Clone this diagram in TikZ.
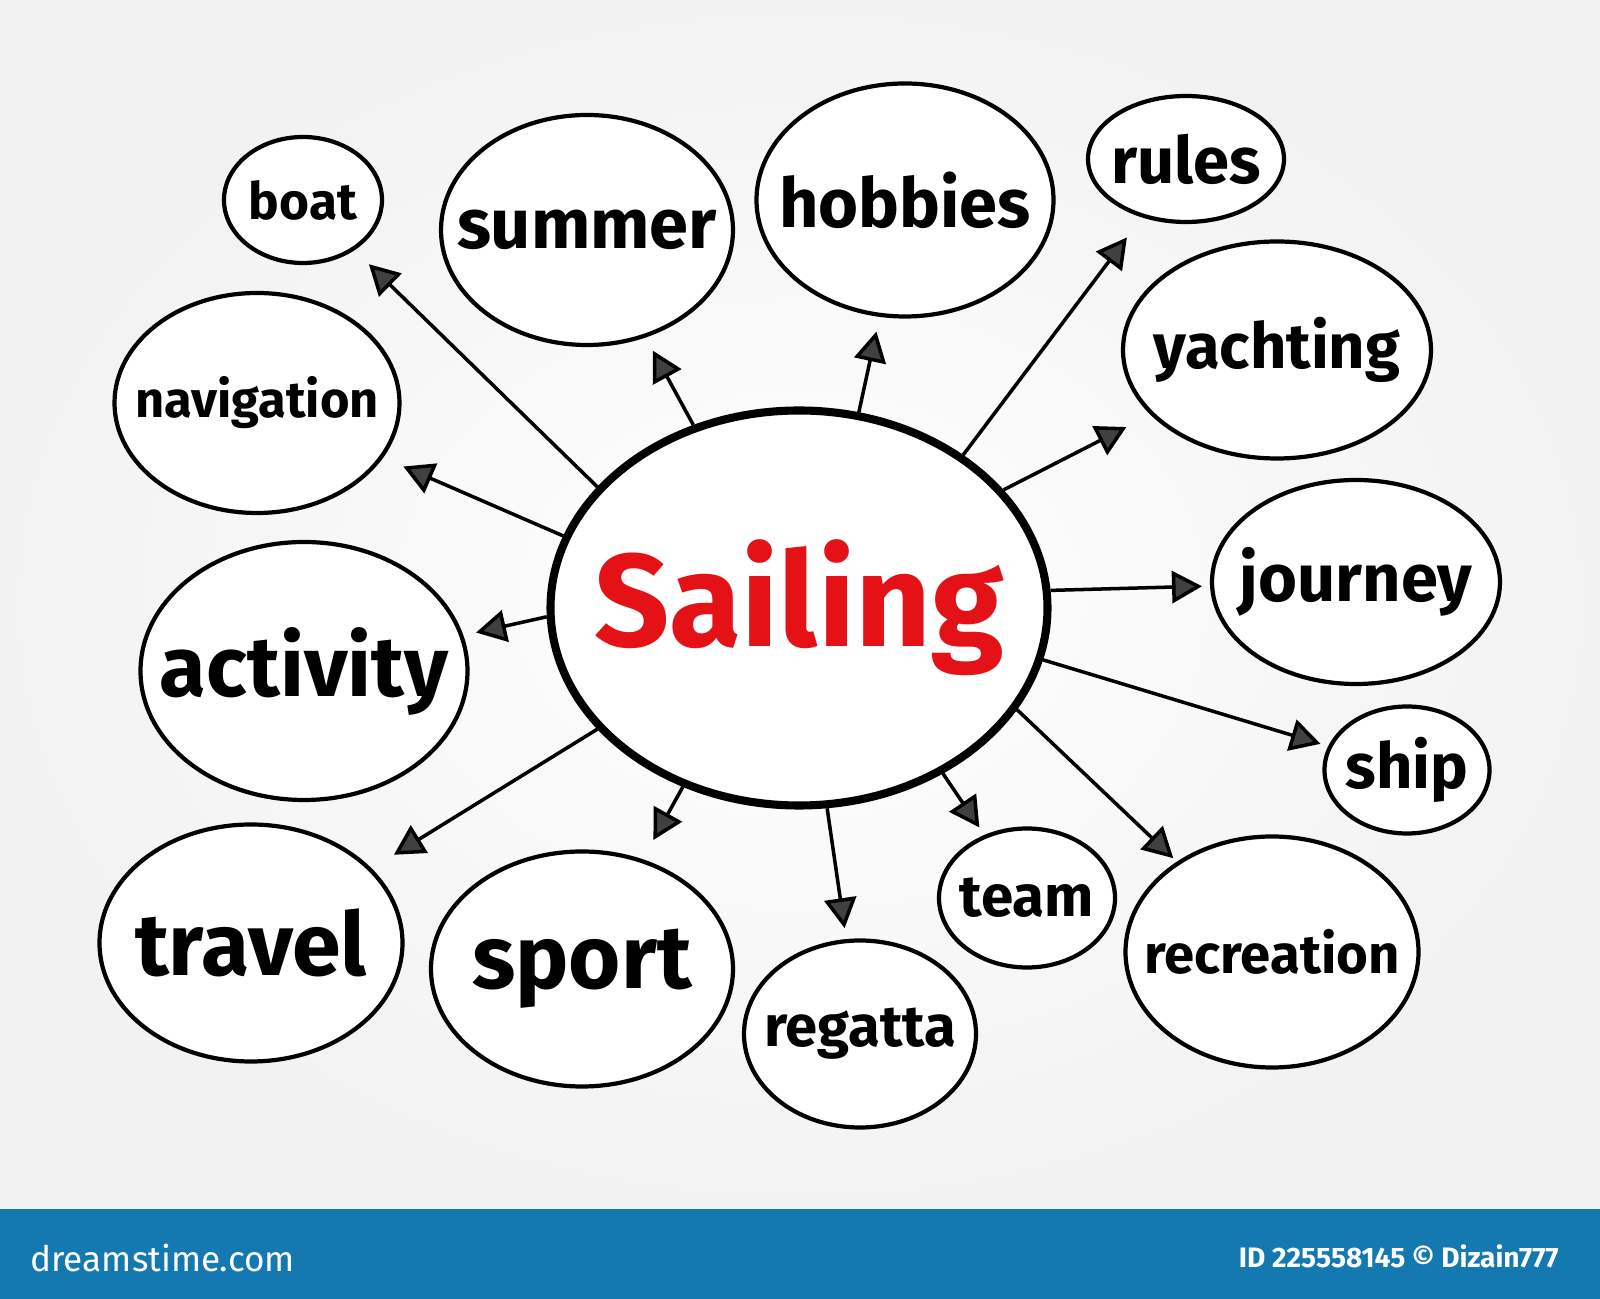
\documentclass[tikz,border=0pt]{standalone}
\usepackage{fontspec}
\setmainfont{Fira Sans}
\usetikzlibrary{shapes.geometric,arrows.meta}
\definecolor{sailred}{RGB}{228,18,22}
\definecolor{bannerblue}{RGB}{20,121,176}

\tikzset{
  bubble/.style={draw, ellipse, line width=1.2pt, fill=white, inner sep=-30mm},
  word/.style={font=\fontsize{#1}{#1}\selectfont\bfseries},
  link/.style={line width=1pt, shorten >=1.5mm,
    -{Triangle[length=3mm,width=3.2mm,fill=black!75]}},
}

\begin{document}
\begin{tikzpicture}[x=0.1mm, y=-0.1mm]
            \useasboundingbox (0,0) rectangle (1600,1299);
            \shade[inner color=white, outer color=black!5] (0,0) rectangle (1600,1209);
            \fill[bannerblue] (0,1209) rectangle (1600,1299);

            \node[bubble, line width=2.3pt, minimum width=49.7mm, minimum height=39.5mm, text=sailred, word=37.5pt] (sailing) at (799,608) {Sailing};

            \node[bubble, minimum width=15.8mm, minimum height=12.6mm, word=14.6pt] (boat) at (303,200) {boat};
            \node[bubble, minimum width=29.2mm, minimum height=23.0mm, word=20pt] (summer) at (587,230) {summer};
            \node[bubble, minimum width=29.7mm, minimum height=23.3mm, word=19.5pt] (hobbies) at (905,200) {hobbies};
            \node[bubble, minimum width=19.6mm, minimum height=12.6mm, word=18.5pt] (rules) at (1186,159) {rules};
            \node[bubble, minimum width=30.8mm, minimum height=21.7mm, word=18pt] (yachting) at (1277,350) {yachting};
            \node[bubble, minimum width=28.5mm, minimum height=22.0mm, word=14.4pt] (navigation) at (257,403) {navigation};
            \node[bubble, minimum width=28.8mm, minimum height=20.4mm, word=19pt] (journey) at (1356,582) {journey};
            \node[bubble, minimum width=32.7mm, minimum height=25.8mm, word=24.2pt] (activity) at (304,671) {activity};
            \node[bubble, minimum width=16.5mm, minimum height=12.7mm, word=18pt] (ship) at (1407,770) {ship};
            \node[bubble, minimum width=30.3mm, minimum height=23.7mm, word=25pt] (travel) at (251,943) {travel};
            \node[bubble, minimum width=30.2mm, minimum height=23.5mm, word=25.5pt] (sport) at (582,969) {sport};
            \node[bubble, minimum width=23.2mm, minimum height=18.7mm, word=16.5pt] (regatta) at (860,1034) {regatta};
            \node[bubble, minimum width=17.6mm, minimum height=13.9mm, word=16.6pt] (team) at (1027,898) {team};
            \node[bubble, minimum width=29.3mm, minimum height=23.1mm, word=15.5pt] (recreation) at (1272,952) {recreation};

            % arrows out of the centre
            \draw[link, shorten >=2mm] (sailing.149) -- (boat);
            \draw[link, shorten >=2.2mm] (sailing.163) -- (navigation);
            \draw[link] (sailing.120) -- (summer);
            \draw[link] (sailing.73) -- (hobbies);
            \draw[link, shorten >=2.5mm] (sailing.43) -- (rules);
            \draw[link, shorten >=2.7mm] (sailing.30) -- (yachting);
            \draw[link, shorten >=0.8mm] (sailing.4) -- (journey);
            \draw[link, shorten >=0.8mm] (sailing.-12) -- (ship);
            \draw[link, shorten >=0.5mm] (sailing.-25) -- (recreation);
            \draw[link, shorten >=0.9mm] (sailing.-49) -- (team);
            \draw[link, shorten >=1.1mm] (sailing.-82) -- (regatta);
            \draw[link, shorten >=2.2mm] (sailing.237) -- (sport);
            \draw[link, shorten >=2.6mm] (sailing.211) -- (travel);
            \draw[link, shorten >=1.3mm] (sailing.182) -- (activity);

            \node[text=white, font=\fontsize{10}{10}\selectfont, anchor=west] (site) at (18,1258) {dreamstime.com}; %
            \node[text=white, font=\fontsize{8}{8}\selectfont\bfseries, anchor=east] (credit) at (1571,1256) {ID 225558145 © Dizain777}; %
\end{tikzpicture}
\end{document}
